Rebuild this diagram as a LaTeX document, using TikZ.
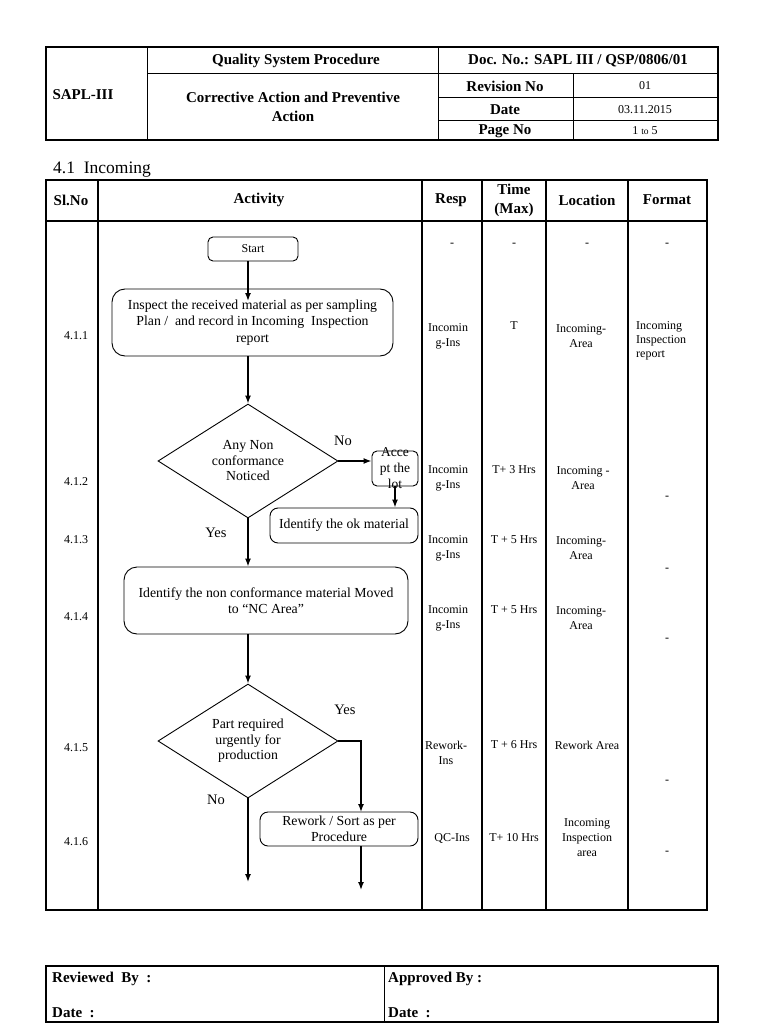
\documentclass[tikz,border=0pt]{standalone}
\usepackage{fontspec}
\setmainfont{Liberation Serif}
\usepackage{tikz}
\usetikzlibrary{arrows.meta,
    shapes.geometric,
    positioning}

\newcommand{\setfs}[2]{\fontsize{#1}{#2}\selectfont}

\tikzset{
    every node/.style={inner sep=0pt},
    outer/.style={line width=1.8pt},
    inner/.style={line width=1pt},
    hdr/.style={font=\bfseries\setfs{15}{19}, align=center},
    cell/.style={font=\setfs{12}{15}, align=center},
    proc/.style={draw, line width=0.9pt, rounded corners=10pt, align=center,
        font=\setfs{13.8}{16.5}},
    decision/.style={draw, line width=0.9pt, diamond, aspect=1.58,
        minimum width=180pt, minimum height=114pt, align=center,
        font=\setfs{13.8}{15.5}},
    flow/.style={-{Latex[length=8pt,width=6pt]}, line width=1.4pt},
    flowlabel/.style={font=\setfs{14.5}{16}}
}

\begin{document}
\begin{tikzpicture}[x=1pt,y=-1pt]
    \useasboundingbox (0,0) rectangle (768,1024);

    % header block
    \draw[outer] (46,47) rectangle (718,140);
    \draw[inner] (147,47) -- (147,140);
    \draw[inner] (438,47) -- (438,140);
    \draw[inner] (147,74) -- (718,74);
    \draw[inner] (438,98) -- (718,98);
    \draw[inner] (438,121) -- (718,121);
    \draw[inner] (573,74) -- (573,140);
    \node[hdr] (unit) at (83,95) {SAPL-III};
    \node[hdr] (qsp) at (296,61) {Quality System Procedure};
    \node[hdr] (docno) at (578,61) {Doc. No.: SAPL III / QSP/0806/01};
    \node[hdr] (title) at (293,107)
        {Corrective Action and Preventive\\Action};
    \node[hdr] (revlbl) at (505,86) {Revision No};
    \node[hdr] (datelbl) at (505,110) {Date};
    \node[hdr] (pagelbl) at (505,131) {Page No};
    \node[cell] (rev) at (645,86) {01};
    \node[cell] (date) at (645,110) {03.11.2015};
    \node[cell] (page) at (645,131) {1 {\setfs{9.5}{11}to} 5};

    \node[anchor=west, font=\setfs{17.5}{20}] (section) at (53,170) {4.1\ \ Incoming};

    % main table
    \draw[outer] (46,180) rectangle (707,910);
    \draw[line width=1.4pt] (46,221) -- (707,221);
    \foreach \cx in {98,422,482,546,628}
        \draw[line width=1.2pt] (\cx,180) -- (\cx,910);
    \node[hdr] (hslno) at (71,200) {Sl.No};
    \node[hdr] (hact) at (259,200) {Activity};
    \node[hdr] (hresp) at (451,200) {Resp};
    \node[hdr] (htime) at (514,200) {Time\\(Max)};
    \node[hdr] (hloc) at (587,200) {Location};
    \node[hdr] (hfmt) at (667,200) {Format};

    % serial numbers
    \foreach \sl/\sy in {4.1.1/336, 4.1.2/482, 4.1.3/540, 4.1.4/617, 4.1.5/748, 4.1.6/842}
        \node[cell] at (76,\sy) {\sl};

    % dashes in first row
    \foreach \dx in {452,514,587,667}
        \node[cell] at (\dx,245) {-};

    % responsibility / time / location
    \node[cell] (resp1) at (448,336) {Incomin\\g-Ins};
    \node[cell] (time1) at (514,326) {T};
    \node[cell] (loc1) at (581,336) {Incoming-\\Area};
    \node[cell, anchor=north west, align=left, font=\setfs{12}{14}] (fmt1) at (636,321)
        {Incoming\\Inspection\\report};

    \node[cell] (resp2) at (448,478) {Incomin\\g-Ins};
    \node[cell] (time2) at (514,470) {T+ 3 Hrs};
    \node[cell] (loc2) at (583,478) {Incoming -\\Area};
    \node[cell] (fmt2) at (667,498) {-};

    \node[cell] (resp3) at (448,548) {Incomin\\g-Ins};
    \node[cell] (time3) at (514,540) {T + 5 Hrs};
    \node[cell] (loc3) at (581,548) {Incoming-\\Area};
    \node[cell] (fmt3) at (667,570) {-};

    \node[cell] (resp4) at (448,618) {Incomin\\g-Ins};
    \node[cell] (time4) at (514,610) {T + 5 Hrs};
    \node[cell] (loc4) at (581,618) {Incoming-\\Area};
    \node[cell] (fmt4) at (667,640) {-};

    \node[cell] (resp5) at (446,753) {Rework-\\Ins};
    \node[cell] (time5) at (514,745) {T + 6 Hrs};
    \node[cell] (loc5) at (587,745) {Rework Area};
    \node[cell] (fmt5) at (667,782) {-};

    \node[cell] (resp6) at (452,838) {QC-Ins};
    \node[cell] (time6) at (514,838) {T+ 10 Hrs};
    \node[cell] (loc6) at (587,838) {Incoming\\Inspection\\area};
    \node[cell] (fmt6) at (667,853) {-};

    % flow chart
    \node[proc, rounded corners=5pt, minimum width=90pt, minimum height=24pt,
        font=\setfs{12}{14}] (start) at (253,249) {Start};
    \node[proc, rounded corners=13pt, minimum width=281pt, minimum height=67pt]
        (inspect) at (252.5,322.5)
        {Inspect the received material as per sampling\\
         Plan /\ \ and record in Incoming\ \ Inspection\\report};
    \node[decision] (noticed) at (248,461) {Any Non\\conformance\\Noticed};
    \node[proc, rounded corners=5pt, minimum width=46pt, minimum height=35pt]
        (accept) at (395,468.5) {};
    \node[cell, font=\setfs{13.5}{16}] (accepttxt) at (accept) {Acce\\pt the\\lot};
    \node[proc, rounded corners=8pt, minimum width=148pt, minimum height=35pt]
        (okmat) at (344,525.5) {Identify the ok material};
    \node[proc, rounded corners=13pt, minimum width=284pt, minimum height=67pt]
        (ncmat) at (266,600.5)
        {Identify the non conformance material Moved\\to ``NC Area''};
    \node[decision] (urgent) at (248,741) {Part required\\urgently for\\production};
    \node[proc, rounded corners=8pt, minimum width=158pt, minimum height=34pt]
        (rework) at (339,829) {Rework / Sort as per\\Procedure};

    \node[flowlabel] (no1) at (343,441) {No};
    \node[flowlabel] (yes1) at (216,533) {Yes};
    \node[flowlabel] (yes2) at (345,710) {Yes};
    \node[flowlabel] (no2) at (216,800) {No};

    \coordinate (intip) at (248,301);
    \coordinate (rwtop) at (361,812);
    \coordinate (noend) at (248,882);
    \coordinate (rwend) at (361,890);

    \draw[flow] (start.south -| intip) -- (intip);
    \draw[flow] (inspect.south -| noticed) -- (noticed.north);
    \draw[flow] (noticed.east) -- (noticed.east -| accept.west);
    \draw[flow] (accept.south) -- (okmat.north -| accept.south);
    \draw[flow] (noticed.south) -- (ncmat.north -| noticed.south);
    \draw[flow] (ncmat.south -| urgent) -- (urgent.north);
    \draw[flow] (urgent.east) -| (rwtop);
    \draw[flow] (urgent.south) -- (noend);
    \draw[flow] (rework.south -| rwend) -- (rwend);

    % sign-off block
    \draw[outer] (46,966) rectangle (718,1022);
    \draw[inner] (384,966) -- (384,1022);
    \node[hdr, anchor=west] (revby) at (52,979) {Reviewed\ \ By\ \ :};
    \node[hdr, anchor=west] (revdate) at (52,1013) {Date\ \ :};
    \node[hdr, anchor=west] (appby) at (388,979) {Approved By :};
    \node[hdr, anchor=west] (appdate) at (388,1013) {Date\ \ :};
\end{tikzpicture}
\end{document}
